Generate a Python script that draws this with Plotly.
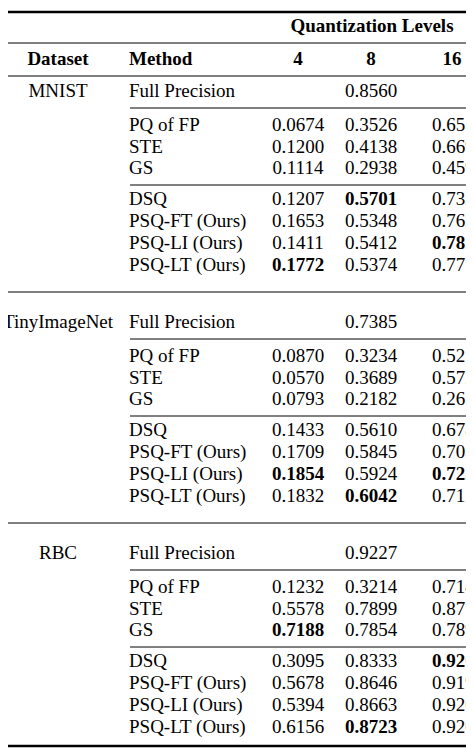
import plotly.graph_objects as go

datasets = ["MNIST", "TinyImageNet", "RBC"]
full_precision = ["0.8560", "0.7385", "0.9227"]
methods = ["PQ of FP", "STE", "GS", "DSQ", "PSQ-FT (Ours)", "PSQ-LI (Ours)", "PSQ-LT (Ours)"]
q4 = [
    ["0.0674", "0.1200", "0.1114", "0.1207", "0.1653", "0.1411", "0.1772"],
    ["0.0870", "0.0570", "0.0793", "0.1433", "0.1709", "0.1854", "0.1832"],
    ["0.1232", "0.5578", "0.7188", "0.3095", "0.5678", "0.5394", "0.6156"],
]
q8 = [
    ["0.3526", "0.4138", "0.2938", "0.5701", "0.5348", "0.5412", "0.5374"],
    ["0.3234", "0.3689", "0.2182", "0.5610", "0.5845", "0.5924", "0.6042"],
    ["0.3214", "0.7899", "0.7854", "0.8333", "0.8646", "0.8663", "0.8723"],
]
q16 = [
    ["0.6555", "0.6698", "0.4595", "0.7321", "0.7627", "0.7822", "0.7759"],
    ["0.5258", "0.5721", "0.2610", "0.6782", "0.7038", "0.7237", "0.7125"],
    ["0.7140", "0.8774", "0.7891", "0.9208", "0.9199", "0.9206", "0.9203"],
]
# best value per dataset: (column, row)
bold = [
    [("8", 3), ("16", 5), ("4", 6)],
    [("4", 5), ("16", 5), ("8", 6)],
    [("4", 2), ("16", 3), ("8", 6)],
]

FONT = "Liberation Serif"
SIZE = 19
block_top = [92, 323, 554]
row_off = [34, 56, 77, 108, 130, 152, 174]

fig = go.Figure()

def txt(xs, ys, texts, pos="middle center", bold_all=False):
    if bold_all:
        texts = [f"<b>{t}</b>" for t in texts]
    fig.add_trace(go.Scatter(x=xs, y=ys, text=texts, mode="text", textposition=pos,
                             textfont=dict(family=FONT, size=SIZE, color="black"),
                             hoverinfo="skip", showlegend=False, cliponaxis=False))

txt([205], [5], ["quantized models trained using different QAT methods."])
txt([372], [27], ["Quantization Levels"], bold_all=True)
txt([58], [60], ["Dataset"], bold_all=True)
txt([129], [60], ["Method"], pos="middle right", bold_all=True)
txt([298, 371, 452], [60, 60, 60], ["4", "8", "16"], bold_all=True)

cols = {"4": (298, q4), "8": (371, q8), "16": (432, q16)}
for d, name in enumerate(datasets):
    y0 = block_top[d]
    txt([58], [y0], [name])
    txt([129], [y0], ["Full Precision"], pos="middle right")
    txt([371], [y0], [full_precision[d]])
    ys = [y0 + o for o in row_off]
    txt([129] * len(methods), ys, methods, pos="middle right")
    for key, (x, data) in cols.items():
        vals = list(data[d])
        for c, r in bold[d]:
            if c == key:
                vals[r] = f"<b>{vals[r]}</b>"
        pos = "middle right" if key == "16" else "middle center"
        txt([x] * len(vals), ys, vals, pos=pos)

def rule(y, x0=0, w=1):
    fig.add_shape(type="line", x0=x0, x1=490, y0=y, y1=y, line=dict(color="black", width=w))

rule(12, w=2.5)
rule(43, w=1)
rule(76, w=1.2)
for y0 in block_top:
    rule(y0 + 16, x0=130, w=1)
    rule(y0 + 93, x0=130, w=1)
rule(292, w=1)
rule(523, w=1)
rule(746, w=2.5)

fig.update_layout(
    width=474, height=749, margin=dict(l=0, r=0, t=0, b=0),
    plot_bgcolor="white", paper_bgcolor="white",
    xaxis=dict(range=[8, 482], visible=False, fixedrange=True),
    yaxis=dict(range=[757, 8], visible=False, fixedrange=True),
)
fig.write_html("out.html")
